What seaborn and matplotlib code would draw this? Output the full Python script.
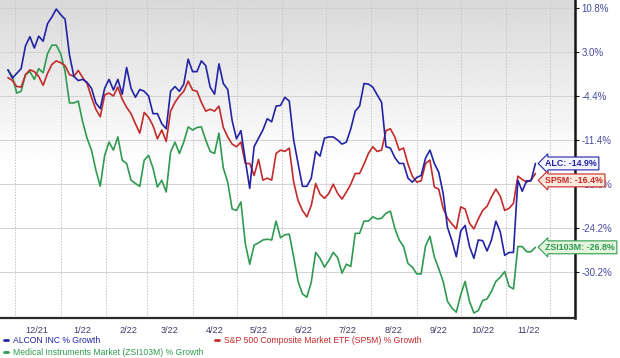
import matplotlib
matplotlib.use("Agg")
import matplotlib.pyplot as plt
import matplotlib.dates as mdates
from matplotlib.lines import Line2D
from matplotlib.ticker import FixedLocator, FuncFormatter, NullFormatter, NullLocator
import numpy as np
import pandas as pd
import seaborn as sns

# 3-day samples, Nov 26 2021 .. Nov 21 2022
dates = pd.date_range("2021-11-26", periods=121, freq="3D")

alc = [0.0, -1.4, -0.6, 0.2, 4.1, 5.7, 3.7, 5.8, 4.9, 8.0,
       9.2, 10.6, 9.6, 8.8, 2.5, -1.1, -1.8, -1.6, -2.1, -3.1,
       -5.5, -6.4, -3.1, -1.6, -3.4, -1.6, -4.1, 0.4, -3.1, -4.6,
       -3.3, -3.6, -4.4, -7.2, -7.2, -8.8, -9.6, -3.6, -2.8, -3.6,
       -2.4, 1.8, -0.3, -0.3, 1.5, 0.7, -2.9, -4.1, 1.0, -2.3,
       -3.3, -8.3, -11.2, -9.9, -14.4, -18.6, -12.4, -11.1, -9.8, -8.0,
       -8.5, -6.0, -5.9, -4.6, -5.2, -11.4, -14.9, -18.3, -18.3, -17.1,
       -13.1, -13.8, -11.1, -10.9, -10.9, -11.4, -12.0, -11.7, -9.6, -6.8,
       -6.0, -2.3, -2.4, -2.9, -4.2, -5.4, -12.4, -12.6, -14.0, -14.9,
       -14.9, -17.1, -17.7, -17.0, -16.7, -14.1, -12.9, -14.9, -16.2, -19.3,
       -24.1, -25.9, -28.1, -24.6, -23.8, -26.7, -28.3, -25.8, -25.9, -27.3,
       -25.8, -23.2, -24.7, -27.9, -27.5, -27.5, -17.4, -19.0, -17.5, -17.5,
       -14.9]

sp5m = [-1.3, -1.8, -2.8, -2.9, -0.8, 0.0, -0.3, -1.1, -2.6, -0.6,
        0.9, 1.5, 1.2, 0.7, -0.8, -1.1, -0.1, -1.3, -2.3, -4.6,
        -6.5, -7.7, -4.2, -3.9, -4.4, -2.9, -4.9, -6.2, -7.2, -8.8,
        -10.3, -7.0, -7.8, -9.1, -11.2, -9.8, -11.6, -6.8, -5.4, -4.4,
        -3.6, -1.9, -3.4, -3.6, -5.4, -6.8, -6.5, -6.8, -6.0, -9.4,
        -10.9, -12.0, -12.4, -11.7, -14.9, -14.9, -16.7, -14.3, -17.4, -17.1,
        -17.4, -13.4, -12.9, -13.1, -12.6, -17.7, -20.3, -21.7, -22.6, -21.0,
        -17.9, -19.4, -20.0, -19.3, -18.0, -19.3, -20.1, -19.1, -18.0, -16.4,
        -16.4, -15.0, -13.4, -12.4, -13.1, -12.9, -9.9, -9.6, -10.9, -12.9,
        -12.6, -15.0, -16.8, -17.7, -17.5, -14.9, -14.4, -18.4, -18.7, -21.4,
        -22.8, -23.6, -24.3, -21.2, -21.5, -23.5, -24.3, -22.9, -21.7, -21.1,
        -19.8, -18.7, -19.7, -21.7, -21.4, -20.7, -16.8, -17.3, -17.7, -17.4,
        -16.4]

zsi = [0.0, -1.1, -3.9, -3.6, -0.8, -0.3, -1.6, 0.2, -0.5, 2.7,
       4.2, 4.2, 2.7, -0.3, -5.5, -5.5, -5.2, -8.5, -11.1, -12.9,
       -15.9, -18.3, -13.7, -11.7, -12.9, -10.9, -14.4, -14.9, -17.4, -17.9,
       -18.3, -14.4, -13.7, -15.6, -18.4, -17.4, -19.1, -13.2, -11.7, -13.4,
       -11.7, -9.3, -9.8, -9.4, -9.3, -11.4, -13.1, -13.4, -10.3, -15.6,
       -17.7, -21.5, -21.7, -20.5, -26.3, -29.1, -26.5, -26.2, -25.8, -25.7,
       -25.8, -23.2, -25.5, -25.1, -25.0, -28.1, -31.3, -32.8, -33.2, -31.4,
       -27.5, -28.3, -29.5, -28.6, -27.5, -28.2, -30.3, -29.1, -29.4, -24.9,
       -24.9, -23.2, -23.2, -22.6, -22.9, -22.8, -22.1, -21.8, -24.2, -25.8,
       -26.7, -29.0, -29.5, -30.4, -30.4, -26.6, -25.3, -28.1, -29.7, -31.3,
       -33.7, -34.5, -35.0, -32.9, -31.3, -33.7, -35.1, -34.8, -33.6, -33.4,
       -32.5, -31.3, -30.8, -30.1, -31.9, -32.2, -26.7, -26.7, -27.4, -27.4,
       -26.8]

series_names = ["ALCON INC % Growth",
                "S&P 500 Composite Market ETF (SP5M) % Growth",
                "Medical Instruments Market (ZSI103M) % Growth"]
tag_names = ["ALC", "SP5M", "ZSI103M"]
y_ticks = [-30.2, -24.2, -18.0, -11.4, -4.4, 3.0, 10.8]
label_months = pd.date_range("2021-12-01", "2022-11-01", freq="MS")

colors = {series_names[0]: "#2323a6", series_names[1]: "#c42a2a", series_names[2]: "#2f9a50"}
tag_fill = ["#f4f4ff", "#fde9dc", "#e3f5dc"]
tag_dy = [0, -5, 0]

sns.set_style("white")
plt.rcParams["font.family"] = ["Liberation Sans", "DejaVu Sans"]


# the source chart spaces its tick values evenly, so the y scale
# is piecewise linear between ticks
def fwd(g):
    g = np.asarray(g, dtype=float)
    k = np.interp(g, y_ticks, np.arange(len(y_ticks)))
    k = np.where(g < y_ticks[0], (g - y_ticks[0]) / 5.3, k)
    k = np.where(g > y_ticks[-1], len(y_ticks) - 1 + (g - y_ticks[-1]) / 7.8, k)
    return k


def inv(k):
    k = np.asarray(k, dtype=float)
    g = np.interp(k, np.arange(len(y_ticks)), y_ticks)
    g = np.where(k < 0, y_ticks[0] + k * 5.3, g)
    g = np.where(k > len(y_ticks) - 1, y_ticks[-1] + (k - len(y_ticks) + 1) * 7.8, g)
    return g


df = pd.concat([
    pd.DataFrame({"date": dates, "growth": vals, "series": name})
    for name, vals in zip(series_names, [alc, sp5m, zsi])
])

fig = plt.figure(figsize=(6.2, 3.58), dpi=100)
pos = [0.0, 40 / 358, 575 / 620, 318 / 358]

# gray-to-white gradient behind the plot
bg = fig.add_axes(pos, zorder=0)
rows = np.arange(318)
shade = 1 - 0.15 * np.clip(1 - rows / 165, 0, 1)
bg.imshow(shade[:, None], cmap="gray", vmin=0, vmax=1, aspect="auto",
          extent=[0, 1, 0, 1], interpolation="bilinear")
bg.axis("off")

ax = fig.add_axes(pos, zorder=1)
ax.set_facecolor("none")

sns.lineplot(data=df, x="date", y="growth", hue="series", palette=colors,
             hue_order=series_names[::-1], linewidth=1.2, legend=False, ax=ax)

ax.set_yscale("function", functions=(fwd, inv))
ax.set_ylim(-35.7, 12.2)
ax.set_xlim(pd.Timestamp("2021-11-20 14:00"), pd.Timestamp("2022-12-18"))

ax.yaxis.tick_right()
ax.yaxis.set_major_locator(FixedLocator(y_ticks))
ax.yaxis.set_major_formatter(FuncFormatter(lambda v, p: f"{v:.1f}%"))
ax.yaxis.set_minor_locator(NullLocator())
ax.tick_params(axis="y", which="major", length=3, width=0.8, direction="out",
               labelsize=7, pad=1.5, colors="#111111")
ax.tick_params(axis="y", labelcolor="#4a4a9e")

ax.xaxis.set_major_locator(mdates.MonthLocator())
ax.xaxis.set_major_formatter(NullFormatter())
ax.xaxis.set_minor_locator(FixedLocator(mdates.date2num(label_months + pd.Timedelta(days=15))))
ax.xaxis.set_minor_formatter(FuncFormatter(
    lambda v, p: f"{mdates.num2date(v).month}/{mdates.num2date(v):%y}"))
ax.tick_params(axis="x", which="both", length=0, labelsize=6.6,
               labelcolor="#3c3c66", pad=5.5)

ax.grid(axis="y", color="#d2d2d2", lw=0.7)
ax.grid(axis="x", which="major", color="#c4c4c4", lw=0.7, ls=(0, (1.5, 1.5)))
ax.set_xlabel("")
ax.set_ylabel("")

for side in ["left", "top"]:
    ax.spines[side].set_visible(False)
ax.spines["right"].set_color("#151515")
ax.spines["right"].set_linewidth(1.8)
ax.spines["bottom"].set_color("#2a2a2a")
ax.spines["bottom"].set_linewidth(1.6)

# value tags at line ends
for name, tag, vals, fill, dy in zip(series_names, tag_names, [alc, sp5m, zsi], tag_fill, tag_dy):
    c = colors[name]
    ax.annotate(f"{tag}: {vals[-1]:.1f}%", xy=(dates[-1], vals[-1]),
                xytext=(7, dy), textcoords="offset points", ha="left", va="center",
                fontsize=6.4, color=c, fontweight="bold", annotation_clip=False,
                bbox=dict(boxstyle="larrow,pad=0.22", fc=fill, ec=c, lw=0.8), zorder=5)

handles = [Line2D([], [], color=colors[n], lw=2) for n in series_names]
order = [0, 2, 1]
leg = fig.legend([handles[i] for i in order], [series_names[i] for i in order],
                 loc="upper left", bbox_to_anchor=(0.005, 1 - 335 / 358), ncol=2,
                 frameon=False, fontsize=6.2, handlelength=0.45, handletextpad=0.6,
                 columnspacing=1.3, borderaxespad=0, borderpad=0.1, labelspacing=0.35,
                 labelcolor="linecolor")

fig.savefig("out.png", dpi=100)
